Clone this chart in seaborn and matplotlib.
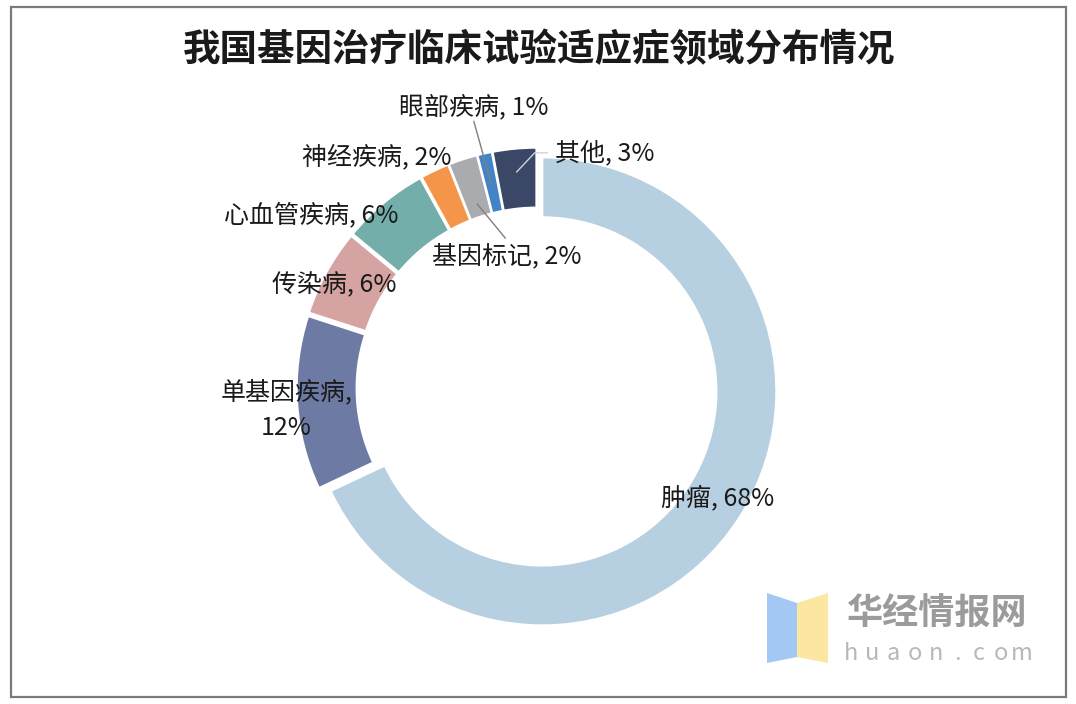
#!/usr/bin/env python3

import numpy as np
import matplotlib
matplotlib.use('Agg')
import matplotlib.pyplot as plt
from matplotlib.patches import Polygon, Rectangle
import seaborn as sns

# data
categories = ['肿瘤', '单基因疾病', '传染病', '心血管疾病', '神经疾病', '基因标记', '眼部疾病', '其他']
shares = [68, 12, 6, 6, 2, 2, 1, 3]
colors = ['#B7D0E1', '#6D7AA3', '#D6A3A3', '#74AEAA', '#F5954A', '#AAABAE', '#4384C8', '#3B4767']
title = '我国基因治疗临床试验适应症领域分布情况'

# label text positions (axes data units, radius = 1)
label_pos = [(0.77, -0.47), (-1.07, -0.095), (-0.865, 0.44), (-0.965, 0.74),
             (-0.685, 0.985), (-0.13, 0.565), (-0.27, 1.20), (0.29, 1.005)]

sns.set_theme(style='white')
plt.rcParams['font.family'] = ['Noto Sans CJK SC', 'DejaVu Sans']

W, H = 1076, 704
fig = plt.figure(figsize=(W / 100, H / 100), dpi=100)
fig.patch.set_facecolor('white')

# outer frame
fig.add_artist(Rectangle((11 / W, 7 / H), 1055 / W, 690 / H, transform=fig.transFigure,
                         fill=False, edgecolor='#7a7a7a', linewidth=1.6))

cx, cy, R = 537, 388, 234
half = 1.15 * R
ax = fig.add_axes([(cx - half) / W, (H - cy - half) / H, 2 * half / W, 2 * half / H])

wedges, _ = ax.pie(shares, colors=colors, startangle=90, counterclock=False,
                   radius=1, explode=[0.027] * len(shares),
                   wedgeprops=dict(width=0.256, edgecolor='white', linewidth=1.5))
ax.set_xlim(-1.15, 1.15)
ax.set_ylim(-1.15, 1.15)
ax.set_aspect('equal')
ax.axis('off')

for i, (cat, val) in enumerate(zip(categories, shares)):
    if cat == '单基因疾病':
        txt = f'{cat},\n{val}%'
    else:
        txt = f'{cat}, {val}%'
    x, y = label_pos[i]
    ax.text(x, y, txt, ha='center', va='center', fontsize=18, color='#1a1a1a', linespacing=1.45)


def wedge_point(w, r):
    ang = np.deg2rad((w.theta1 + w.theta2) / 2)
    c = w.center
    return c[0] + r * np.cos(ang), c[1] + r * np.sin(ang)


# leader lines
i_eye = categories.index('眼部疾病')
px, py = wedge_point(wedges[i_eye], 0.86)
ax.plot([-0.27, px], [1.14, py], color='#7f7f7f', lw=1)

i_mark = categories.index('基因标记')
px, py = wedge_point(wedges[i_mark], 0.80)
ax.plot([-0.135, px], [0.64, py], color='#7f7f7f', lw=1)

i_oth = categories.index('其他')
px, py = wedge_point(wedges[i_oth], 0.90)
ax.plot([0.045, -0.01, px], [1.005, 1.005, py], color='#cfd3da', lw=1)

# title
fig.text(539 / W, 1 - 50 / H, title, ha='center', va='center', fontsize=27,
         fontweight='bold', color='#1a1a1a')

# watermark
fig.add_artist(Polygon([(767 / W, 1 - 593 / H), (797 / W, 1 - 603 / H),
                        (797 / W, 1 - 657 / H), (767 / W, 1 - 663 / H)],
                       closed=True, transform=fig.transFigure, facecolor='#A3C8F3', edgecolor='none'))
fig.add_artist(Polygon([(797 / W, 1 - 603 / H), (828 / W, 1 - 593 / H),
                        (828 / W, 1 - 663 / H), (797 / W, 1 - 657 / H)],
                       closed=True, transform=fig.transFigure, facecolor='#FBE7A2', edgecolor='none'))
fig.text(937 / W, 1 - 614 / H, '华经情报网', ha='center', va='center', fontsize=26,
         fontweight='bold', color='#9b9b9b')
site = 'huaon.com'
xs = np.linspace(851, 1022, len(site))
for ch, xp in zip(site, xs):
    fig.text(xp / W, 1 - 654 / H, ch, ha='center', va='center', fontsize=17,
             color='#b8b8b8', fontweight='light')

fig.savefig('out.png', dpi=100, facecolor='white')
